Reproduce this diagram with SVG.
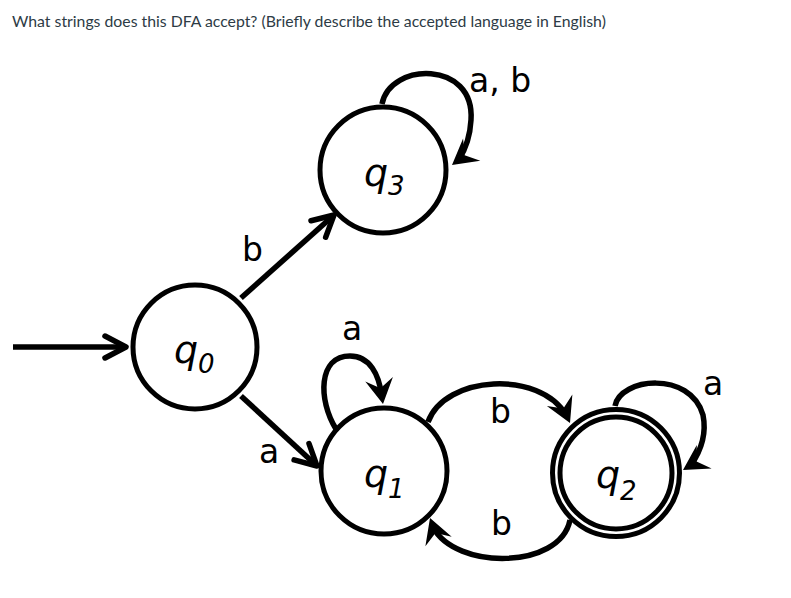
<svg xmlns="http://www.w3.org/2000/svg" xmlns:xlink="http://www.w3.org/1999/xlink" width="791" height="598" viewBox="0 0 791 598">
<style>
.st{fill:none;stroke:#000;stroke-width:5}
.ed{fill:none;stroke:#000;stroke-width:5.5;stroke-linecap:butt}
.lbl{font-family:"DejaVu Sans",Verdana,sans-serif;font-size:33px;fill:#000}
.q{font-family:"DejaVu Sans",Verdana,sans-serif;font-style:italic;font-size:38px;fill:#000}
.sub{font-family:"DejaVu Sans",Verdana,sans-serif;font-style:italic;font-size:26px;fill:#000}
.title{font-family:Lato,"Liberation Sans",sans-serif;font-size:15.8px;fill:#2d3b45}
</style>
<defs>
<marker id="chev" markerUnits="userSpaceOnUse" orient="auto" refX="0" refY="0" markerWidth="40" markerHeight="40" viewBox="-30 -20 40 40" overflow="visible">
<path d="M-21,-11 L0,0 L-21,11" fill="none" stroke="#000" stroke-width="5.5" stroke-linecap="round" stroke-linejoin="round"/>
</marker>
<path id="head" d="M0,0 L-25,-14 L-16,0 L-25,14 Z" fill="#000"/>
</defs>
<rect width="791" height="598" fill="#fff"/>
<text class="title" x="12" y="27">What strings does this DFA accept? (Briefly describe the accepted language in English)</text>

<g id="edges">
<path class="ed" d="M13,347 L126,347" marker-end="url(#chev)"/>
<path class="ed" d="M241,298 L334,215" marker-end="url(#chev)"/>
<path class="ed" d="M241,396 L317,466" marker-end="url(#chev)"/>
<path class="ed" d="M382,104 C390,62 475,60 471,120 C470,138 465,150 459,159"/>
<use xlink:href="#head" transform="translate(452,165) rotate(142)"/>
<path class="ed" d="M336,429 C318,400 318,356 350,356 C370,356 379,375 381.5,395"/>
<use xlink:href="#head" transform="translate(383,404) rotate(81)"/>
<path class="ed" d="M615,406 C620,378 690,370 703,415 C707,435 700,452 691,465"/>
<use xlink:href="#head" transform="translate(683,470) rotate(148)"/>
<path class="ed" d="M428,422 C445,375 540,370 566,415"/>
<use xlink:href="#head" transform="translate(570,423) rotate(65.5)"/>
<path class="ed" d="M570,520 C560,570 455,570 433,527"/>
<use xlink:href="#head" transform="translate(430,518) rotate(250)"/>
<text class="lbl" x="242" y="261">b</text>
<text class="lbl" x="259" y="463">a</text>
<text class="lbl" x="342" y="340">a</text>
<text class="lbl" x="469" y="92">a, b</text>
<text class="lbl" x="703" y="395">a</text>
<text class="lbl" x="490" y="423">b</text>
<text class="lbl" x="491" y="535">b</text>
</g>

<g id="q0">
<circle class="st" cx="195" cy="347" r="62"/>
<text class="q" x="174" y="363">q</text><text class="sub" x="198" y="373">0</text>
</g>
<g id="q3">
<circle class="st" cx="383" cy="170" r="63"/>
<text class="q" x="364" y="186">q</text><text class="sub" x="388" y="195">3</text>
</g>
<g id="q1">
<circle class="st" cx="384" cy="471" r="63"/>
<text class="q" x="364" y="487">q</text><text class="sub" x="388" y="498">1</text>
</g>
<g id="q2">
<circle class="st" cx="616" cy="473" r="63.5"/>
<circle class="st" cx="616" cy="473" r="56"/>
<text class="q" x="596" y="488">q</text><text class="sub" x="620" y="500">2</text>
</g>
</svg>
